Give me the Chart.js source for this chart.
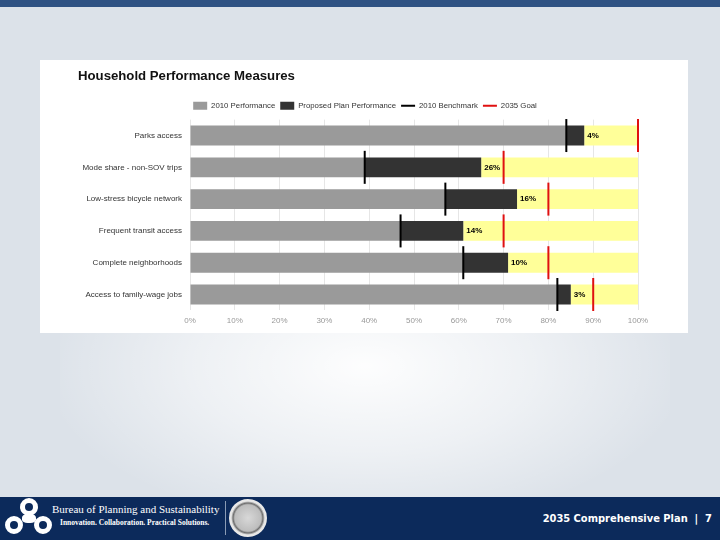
<!DOCTYPE html>
<html>
<head>
<meta charset="utf-8">
<script src="https://cdn.jsdelivr.net/npm/chart.js@4.4.1/dist/chart.umd.min.js"></script>
<style>
  body { margin: 0; width: 720px; height: 540px; overflow: hidden; position: relative;
         background: #dce2e9; font-family: "Liberation Sans", Arial, sans-serif; }
  .topbar { position: absolute; left: 0; top: 0; width: 720px; height: 7px; background: #2f5283; }
  .glow { position: absolute; left: 60px; top: 300px; width: 610px; height: 220px;
          background: radial-gradient(ellipse at 50% 30%, rgba(255,255,255,0.95) 0%, rgba(255,255,255,0.5) 40%, rgba(255,255,255,0) 75%); }
  .panel { position: absolute; left: 40px; top: 60px; width: 648px; height: 273px; background: #fff; }
  .footer { position: absolute; left: 0; top: 497px; width: 720px; height: 43px; background: #0c2a5b; color: #fff; }
  .ring { position: absolute; width: 8px; height: 8px; border: 5px solid #fff; border-radius: 50%; }
  .knot { position: absolute; left: 22px; top: 17px; width: 14px; height: 9px; background: #fff; border-radius: 40%; }
  .bureau { position: absolute; left: 52px; top: 6px; font-family: "Liberation Serif", "DejaVu Serif", serif; font-size: 11px; white-space: nowrap; }
  .motto { position: absolute; left: 60px; top: 21px; font-family: "Liberation Serif", serif; font-size: 7.5px; font-weight: bold; white-space: nowrap; }
  .divider { position: absolute; left: 225px; top: 4px; width: 1px; height: 34px; background: #8a9bb5; }
  .seal { position: absolute; left: 229px; top: 2px; width: 34px; height: 34px; border-radius: 50%;
          background: radial-gradient(circle, #d8d8d8 0%, #bdbdbd 55%, #6f6f6f 62%, #e6e6e6 70%, #9a9a9a 100%); border: 2px solid #e8e8e8; }
  .pageinfo { position: absolute; right: 8px; top: 15px; font-size: 11px; font-weight: bold; white-space: nowrap; font-family: "DejaVu Sans Condensed", "DejaVu Sans", sans-serif; }
</style>
</head>
<body>
<div class="topbar"></div>
<div class="glow"></div>
<div class="panel"><canvas id="chart" width="648" height="273"></canvas></div>
<div class="footer">
  <div class="knot"></div>
  <div class="ring" style="left:20px;top:1px"></div>
  <div class="ring" style="left:5px;top:19px"></div>
  <div class="ring" style="left:34px;top:19px"></div>
  <div class="bureau">Bureau of Planning and Sustainability</div>
  <div class="motto">Innovation. Collaboration. Practical Solutions.</div>
  <div class="divider"></div>
  <div class="seal"></div>
  <div class="pageinfo">2035 Comprehensive Plan &nbsp;|&nbsp; 7</div>
</div>
<script>
// Household performance measures (percent)
const categories = [
  'Parks access',
  'Mode share - non-SOV trips',
  'Low-stress bicycle network',
  'Frequent transit access',
  'Complete neighborhoods',
  'Access to family-wage jobs'
];
const performance2010 = [84, 39, 57, 47, 61, 82];
const planIncrease = [4, 26, 16, 14, 10, 3];
const benchmark2010 = [84, 39, 57, 47, 61, 82];
const goal2035 = [100, 70, 80, 70, 80, 90];
const xTicks = [0, 10, 20, 30, 40, 50, 60, 70, 80, 90, 100];

// yellow fill up to 100%
const remaining = performance2010.map((v, i) => 100 - v - planIncrease[i]);

// draws the "+x%" labels right after the dark bars
const increaseLabels = {
  id: 'increaseLabels',
  afterDatasetsDraw(chart) {
    const meta = chart.getDatasetMeta(1);
    const ctx = chart.ctx;
    ctx.save();
    ctx.font = 'bold 8px "Liberation Sans", Arial, sans-serif';
    ctx.fillStyle = '#000';
    ctx.textBaseline = 'middle';
    meta.data.forEach((bar, i) => {
      ctx.fillText(planIncrease[i] + '%', bar.x + 3, bar.y);
    });
    ctx.restore();
  }
};

// the legend sits a little right of the canvas centre in the original
const legendShift = {
  id: 'legendShift',
  afterLayout(chart) {
    chart.legend.left += 7;
    chart.legend.right += 7;
  }
};

const chart = new Chart(document.getElementById('chart'), {
  type: 'bar',
  data: {
    labels: categories,
    datasets: [
      { label: '2010 Performance', data: performance2010, backgroundColor: '#9a9a9a', order: 1 },
      { label: 'Proposed Plan Performance', data: planIncrease, backgroundColor: '#333333', order: 1 },
      { label: 'remaining', data: remaining, backgroundColor: '#ffff99', order: 1 },
      { type: 'line', label: '2010 Benchmark', data: benchmark2010, stack: 'bench', order: 0, clip: false,
        showLine: false, pointStyle: 'line', rotation: 90, pointRadius: 16.5, pointHoverRadius: 16.5,
        borderColor: '#000', borderWidth: 2 },
      { type: 'line', label: '2035 Goal', data: goal2035, stack: 'goal', order: 0, clip: false,
        showLine: false, pointStyle: 'line', rotation: 90, pointRadius: 16.5, pointHoverRadius: 16.5,
        borderColor: '#e01010', borderWidth: 2 }
    ]
  },
  options: {
    indexAxis: 'y',
    responsive: false,
    animation: false,
    datasets: { bar: { barPercentage: 0.625, categoryPercentage: 1 } },
    layout: { padding: { left: 38, right: 50, top: 0, bottom: 1 } },
    plugins: {
      title: {
        display: true, text: 'Household Performance Measures', align: 'start',
        color: '#111', font: { size: 13.2, weight: 'bold', family: '"Liberation Sans", Arial, sans-serif' },
        padding: { top: 8, bottom: 13 }
      },
      legend: {
        position: 'top',
        labels: {
          usePointStyle: true, pointStyleWidth: 14, boxHeight: 8,
          color: '#333', padding: 5,
          font: { size: 7.8, family: '"Liberation Sans", Arial, sans-serif' },
          generateLabels(chart) {
            return chart.data.datasets
              .map((ds, i) => ({ ds, i }))
              .filter(o => o.ds.label !== 'remaining')
              .map(({ ds, i }) => {
                const isLine = ds.type === 'line';
                return {
                  text: ds.label,
                  datasetIndex: i,
                  pointStyle: isLine ? 'line' : 'rect',
                  rotation: 0,
                  fillStyle: isLine ? ds.borderColor : ds.backgroundColor,
                  strokeStyle: isLine ? ds.borderColor : ds.backgroundColor,
                  lineWidth: isLine ? 2 : 0,
                  fontColor: '#333'
                };
              });
          }
        }
      },
      tooltip: { enabled: false }
    },
    scales: {
      x: {
        stacked: true, min: 0, max: 100,
        afterBuildTicks(scale) { scale.ticks = xTicks.map(v => ({ value: v })); },
        ticks: { callback: v => v + '%', color: '#999', padding: 6,
                 font: { size: 8, family: '"Liberation Sans", Arial, sans-serif' } },
        grid: { color: '#e6e6e6', drawTicks: false },
        border: { display: false }
      },
      y: {
        stacked: true,
        afterFit(scale) { scale.width = 112; },
        ticks: { color: '#333', padding: 8,
                 font: { size: 8, family: '"Liberation Sans", Arial, sans-serif' } },
        grid: { display: false, drawTicks: false },
        border: { display: false }
      }
    }
  },
  plugins: [increaseLabels, legendShift]
});
</script>
</body>
</html>
